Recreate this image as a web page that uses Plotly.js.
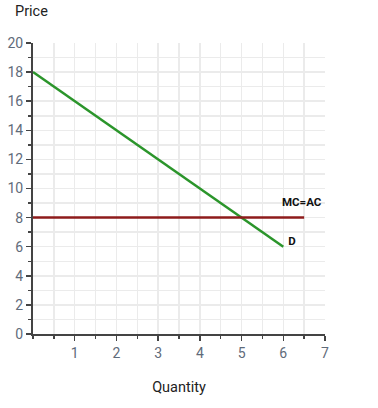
<!DOCTYPE html>
<html><head><meta charset="utf-8">
<script src="https://cdn.plot.ly/plotly-3.0.1.min.js"></script>
<style>html,body{margin:0;padding:0;background:#fff}</style>
</head><body>
<div id="chart" style="width:378px;height:408px"></div>
<script>
const demandQ = [0, 6];
const demandP = [18, 6];
const mcQ = [0, 6.5];
const mcP = [8, 8];
const labelText = ["MC=AC", "D"];
const labelQ = [5.97, 6.12];
const labelP = [9.0, 6.3];

const traces = [
  {x: demandQ, y: demandP, mode: "lines", line: {color: "#2b952b", width: 2.5}, hoverinfo: "skip"},
  {x: mcQ, y: mcP, mode: "lines", line: {color: "#8e1b1b", width: 2.5}, hoverinfo: "skip"},
  {x: labelQ, y: labelP, mode: "text", text: labelText, textposition: "middle right", cliponaxis: false,
   textfont: {family: "Roboto, Arial", size: 11.5, color: "#111", weight: "bold"}, hoverinfo: "skip"}
];

const layout = {
  width: 378, height: 408,
  margin: {l: 33, r: 53, t: 43, b: 74},
  showlegend: false,
  paper_bgcolor: "#fff", plot_bgcolor: "#fff",
  font: {family: "Roboto, Arial", color: "#5f6b7a", size: 14},
  xaxis: {
    range: [0, 7], dtick: 1, tick0: 0,
    showgrid: true, gridcolor: "#ebebeb", gridwidth: 1.5,
    minor: {dtick: 0.5, showgrid: true, gridcolor: "#ebebeb", gridwidth: 1.5, ticks: "outside", ticklen: 3, tickcolor: "#444"},
    showline: true, linecolor: "#444", linewidth: 2,
    ticks: "outside", ticklen: 5, tickcolor: "#444", tickwidth: 1.5,
    zeroline: false, fixedrange: true,
    tickvals: [1,2,3,4,5,6,7],
    tickfont: {size: 14, color: "#5f6b7a"},
    title: {text: "Quantity", font: {size: 14.5, color: "#222"}, standoff: 22}
  },
  yaxis: {
    range: [0, 20], dtick: 2, tick0: 0,
    showgrid: true, gridcolor: "#ebebeb", gridwidth: 1.5,
    minor: {dtick: 1, showgrid: true, gridcolor: "#ebebeb", gridwidth: 1.5, ticks: "outside", ticklen: 3, tickcolor: "#444"},
    showline: true, linecolor: "#444", linewidth: 2,
    ticks: "outside", ticklen: 5, tickcolor: "#444", tickwidth: 1.5,
    tickfont: {size: 14, color: "#5f6b7a"},
    zeroline: false, fixedrange: true
  },
  annotations: [
    {text: "Price", xref: "paper", yref: "paper", x: -0.068, y: 1.107, xanchor: "left", yanchor: "middle",
     showarrow: false, font: {size: 14.5, color: "#222"}}
  ]
};
Plotly.newPlot("chart", traces, layout, {staticPlot: true, displayModeBar: false});
</script>
</body></html>
